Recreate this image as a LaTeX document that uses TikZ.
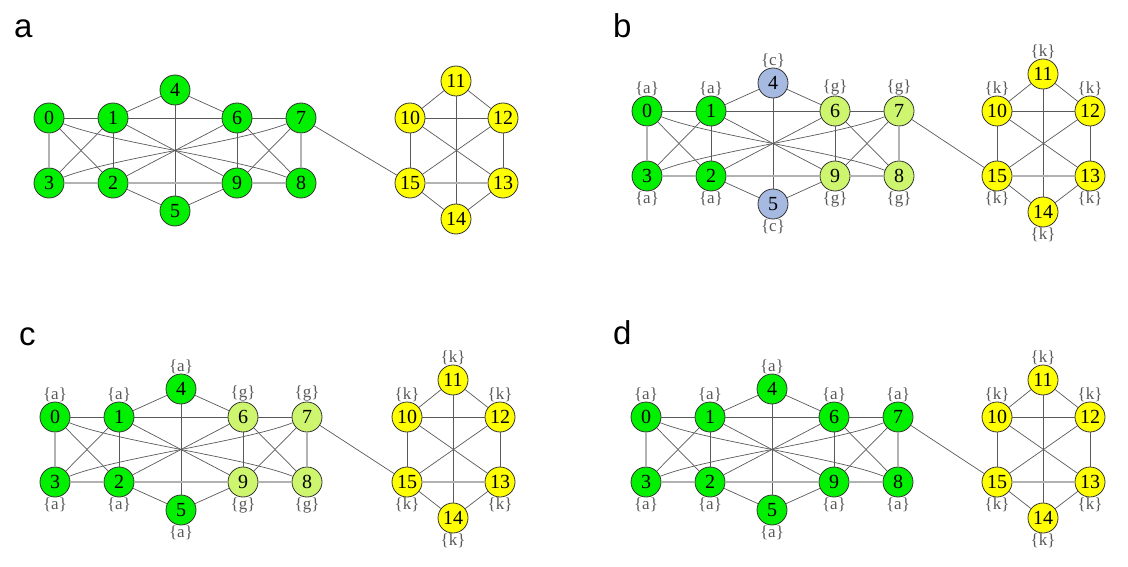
\documentclass[tikz,border=0pt]{standalone}
\usepackage{fontspec}
\setmainfont{Liberation Serif}
\newfontfamily\letterfont{Liberation Sans}
\usepackage{tikz}

\definecolor{vgreen}{RGB}{0,240,0}
\definecolor{vlime}{RGB}{205,245,110}
\definecolor{vblue}{RGB}{165,185,225}
\definecolor{vyellow}{RGB}{255,255,0}

\tikzset{
  vtx/.style={draw=black!80, line width=0.8pt, circle, minimum size=30pt, inner sep=0pt,
    label distance=1pt, font=\fontsize{20}{20}\selectfont},
  lab/.style={inner sep=0pt, text=black!65, font=\fontsize{17}{17}\selectfont},
  link/.style={draw=black!65, line width=0.7pt},
  heavy/.style={draw=black!30, line width=1.5pt},
  letter/.style={anchor=base west, inner sep=0pt, font=\letterfont\fontsize{33}{33}\selectfont},
}

% #1/#2 colour and label of 0-3, #3/#4 of 4-5, #5/#6 of 6-9, #7 label of 10-15, #8 shift of 10-15
\newcommand{\clusterpair}[8]{%
  % Nodes
  \node (0) [vtx, fill=#1, label={[lab]above:#2}] at (0,0) {0};
  \node (1) [vtx, fill=#1, label={[lab]above:#2}] at (64,0) {1};
  \node (3) [vtx, fill=#1, label={[lab]below:#2}] at (0,65) {3};
  \node (2) [vtx, fill=#1, label={[lab]below:#2}] at (64,65) {2};
  \node (4) [vtx, fill=#3, label={[lab]above:#4}] at (126,-28) {4};
  \node (5) [vtx, fill=#3, label={[lab]below:#4}] at (126,93) {5};
  \node (6) [vtx, fill=#5, label={[lab]above:#6}] at (188,0) {6};
  \node (7) [vtx, fill=#5, label={[lab]above:#6}] at (252,0) {7};
  \node (9) [vtx, fill=#5, label={[lab]below:#6}] at (188,65) {9};
  \node (8) [vtx, fill=#5, label={[lab]below:#6}] at (252,65) {8};
  \begin{scope}[xshift=#8pt]
    \node (10) [vtx, fill=vyellow, label={[lab]above:#7}] at (0,0) {10};
    \node (11) [vtx, fill=vyellow, label={[lab]above:#7}] at (46,-37) {11};
    \node (12) [vtx, fill=vyellow, label={[lab]above:#7}] at (93,0) {12};
    \node (15) [vtx, fill=vyellow, label={[lab]below:#7}] at (0,65) {15};
    \node (13) [vtx, fill=vyellow, label={[lab]below:#7}] at (93,65) {13};
    \node (14) [vtx, fill=vyellow, label={[lab]below:#7}] at (46,101) {14};
  \end{scope}

  % Edges
  \draw [link] (0) -- (1);
  \draw [link] (1) -- (6);
  \draw [link] (6) -- (7);
  \draw [heavy] (0) -- (3);
  \draw [link] (0) -- (2);
  \draw [link] (1) -- (3);
  \draw [link] (1) -- (2);
  \draw [link] (1) -- (4);
  \draw [link] (4) -- (6);
  \draw [link] (4) -- (5);
  \draw [link] (1) -- (9);
  \draw [link] (2) -- (6);
  \draw [link] (6) -- (9);
  \draw [link] (6) -- (8);
  \draw [link] (7) -- (9);
  \draw [heavy] (7) -- (8);
  \draw [heavy] (3) -- (2);
  \draw [heavy] (2) -- (9);
  \draw [heavy] (9) -- (8);
  \draw [link] (2) -- (5);
  \draw [link] (5) -- (9);
  \draw [link] (0) .. controls +(60,24) and +(-60,-24) .. (8);
  \draw [link] (3) .. controls +(60,-24) and +(-60,24) .. (7);
  \draw [link] (7) -- (15);
  \draw [link] (10) -- (11);
  \draw [link] (11) -- (12);
  \draw [link] (11) -- (14);
  \draw [link] (10) -- (12);
  \draw [link] (10) -- (13);
  \draw [link] (12) -- (15);
  \draw [link] (10) -- (15);
  \draw [link] (12) -- (13);
  \draw [heavy] (15) -- (13);
  \draw [link] (15) -- (14);
  \draw [link] (13) -- (14);
}

\begin{document}
\begin{tikzpicture}[x=1pt, y=-1pt]
  \useasboundingbox (0,0) rectangle (1128,567);

  % Panel letters
  \node (la) [letter] at (14,38) {a};
  \node (lb) [letter] at (613,38) {b};
  \node (lc) [letter] at (19,345) {c};
  \node (ld) [letter] at (613,344) {d};

  % Panels
  \begin{scope}[shift={(49,118)}, name prefix=a-]
    \clusterpair{vgreen}{}{vgreen}{}{vgreen}{}{}{361}
  \end{scope}
  \begin{scope}[shift={(647,111)}, name prefix=b-]
    \clusterpair{vgreen}{\{a\}}{vblue}{\{c\}}{vlime}{\{g\}}{\{k\}}{350}
  \end{scope}
  \begin{scope}[shift={(55,417)}, name prefix=c-]
    \clusterpair{vgreen}{\{a\}}{vgreen}{\{a\}}{vlime}{\{g\}}{\{k\}}{352}
  \end{scope}
  \begin{scope}[shift={(646,417)}, name prefix=d-]
    \clusterpair{vgreen}{\{a\}}{vgreen}{\{a\}}{vgreen}{\{a\}}{\{k\}}{351}
  \end{scope}
\end{tikzpicture}
\end{document}
